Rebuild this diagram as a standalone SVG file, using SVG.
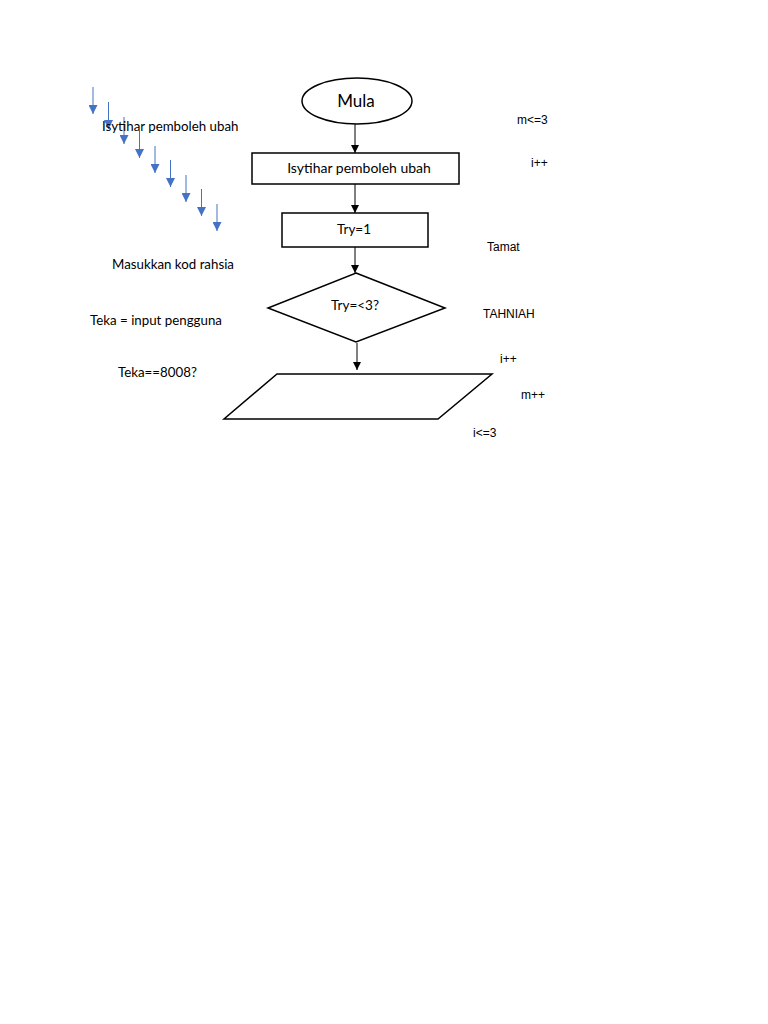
<svg xmlns="http://www.w3.org/2000/svg" width="768" height="1024" viewBox="0 0 768 1024">
<style>
.sh{fill:#fff;stroke:#000;stroke-width:1.5}
.cn{stroke:#000;stroke-width:1;fill:none}
.bl{stroke:#4472c4;stroke-width:1;fill:none}
.c{font-family:Lato,"Open Sans","Liberation Sans",sans-serif;fill:#000}
.a{font-family:"Liberation Sans",Arial,sans-serif;font-size:12px;fill:#000}
</style>
<defs>
<marker id="ah" viewBox="0 0 10 10" refX="10" refY="5" markerWidth="8" markerHeight="8" markerUnits="userSpaceOnUse" orient="auto"><path d="M0,0L10,5L0,10z" fill="#000"/></marker>
<marker id="bh" viewBox="0 0 10 10" refX="10" refY="5" markerWidth="9" markerHeight="9" markerUnits="userSpaceOnUse" orient="auto"><path d="M0,0L10,5L0,10z" fill="#4472c4"/></marker>
</defs>
<rect width="768" height="1024" fill="#fff"/>
<g id="connectors">
<line class="cn" x1="355" y1="124" x2="355" y2="153" marker-end="url(#ah)"/>
<line class="cn" x1="355" y1="184" x2="355" y2="213" marker-end="url(#ah)"/>
<line class="cn" x1="355" y1="247" x2="355" y2="273" marker-end="url(#ah)"/>
<line class="cn" x1="357" y1="343" x2="357" y2="370" marker-end="url(#ah)"/>
</g>
<g id="blue-arrows">
<line class="bl" x1="93" y1="87" x2="93" y2="114" marker-end="url(#bh)"/>
<line class="bl" x1="108.5" y1="102" x2="108.5" y2="129" marker-end="url(#bh)"/>
<line class="bl" x1="124" y1="117" x2="124" y2="144" marker-end="url(#bh)"/>
<line class="bl" x1="139.5" y1="131" x2="139.5" y2="158" marker-end="url(#bh)"/>
<line class="bl" x1="155" y1="146" x2="155" y2="173" marker-end="url(#bh)"/>
<line class="bl" x1="170.5" y1="160" x2="170.5" y2="187" marker-end="url(#bh)"/>
<line class="bl" x1="186" y1="175" x2="186" y2="202" marker-end="url(#bh)"/>
<line class="bl" x1="201.5" y1="189" x2="201.5" y2="216" marker-end="url(#bh)"/>
<line class="bl" x1="217" y1="204" x2="217" y2="231" marker-end="url(#bh)"/>
</g>
<g id="mula">
<ellipse class="sh" cx="357" cy="101" rx="55" ry="23"/>
<text class="c" x="356" y="107" font-size="17" text-anchor="middle">Mula</text>
</g>
<g id="isytihar">
<rect class="sh" x="252" y="153" width="207" height="31"/>
<text class="c" x="359" y="173" font-size="14" text-anchor="middle">Isytihar pemboleh ubah</text>
</g>
<g id="try1">
<rect class="sh" x="282" y="213" width="146" height="34"/>
<text class="c" x="354" y="234" font-size="13.5" text-anchor="middle">Try=1</text>
</g>
<g id="decision">
<polygon class="sh" points="356,273 445,308 356,342 268,308"/>
<text class="c" x="355" y="310" font-size="13.5" text-anchor="middle">Try=&lt;3?</text>
</g>
<g id="io">
<polygon class="sh" points="277,374 492,374 438,419 224,419"/>
</g>
<g id="labels">
<text class="c" x="102" y="131" font-size="13.3">Isytihar pemboleh ubah</text>
<text class="c" x="112" y="269" font-size="13.3">Masukkan kod rahsia</text>
<text class="c" x="90" y="325" font-size="13.3">Teka = input pengguna</text>
<text class="c" x="118" y="377" font-size="13.3">Teka==8008?</text>
<text class="a" x="517" y="124">m&lt;=3</text>
<text class="a" x="531" y="167">i++</text>
<text class="a" x="487" y="251">Tamat</text>
<text class="a" x="483" y="318">TAHNIAH</text>
<text class="a" x="500" y="363">i++</text>
<text class="a" x="521" y="399">m++</text>
<text class="a" x="473" y="437">i&lt;=3</text>
</g>
</svg>
